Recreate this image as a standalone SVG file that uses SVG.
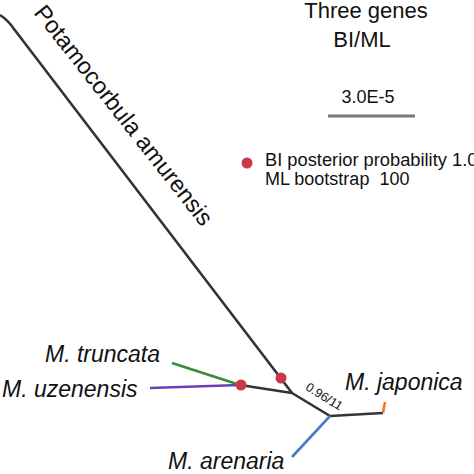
<svg xmlns="http://www.w3.org/2000/svg" width="474" height="474" viewBox="0 0 474 474">
<style>
text{font-family:"Liberation Sans",Arial,sans-serif;fill:#111}
.sp{font-style:italic;font-size:23px}
.br{fill:none;stroke-width:2.6;stroke-linecap:butt;stroke-linejoin:round}
.dot{fill:#c8384a}
</style>
<rect width="474" height="474" fill="#fff"/>
<g id="connectors">
<path class="br" stroke="#333" d="M0,15 Q8,20 14,29 L292,393"/>
<path class="br" stroke="#333" d="M240,385 L292,393 L330,416 L383,413"/>
<path class="br" stroke="#6a3fb5" d="M150,388 L240,385"/>
<path class="br" stroke="#3a8a3a" d="M172,363 L240,385"/>
<path class="br" stroke="#4a7cc4" d="M330,416 L292,457"/>
<path class="br" stroke="#f07a20" d="M383,413 L385,402"/>
</g>
<g id="node-potamocorbula"><text font-size="23.5" transform="translate(33,13) rotate(51.8)">Potamocorbula amurensis</text></g>
<g id="node-truncata"><text class="sp" x="45" y="362">M. truncata</text></g>
<g id="node-uzenensis"><text class="sp" x="2" y="397">M. uzenensis</text></g>
<g id="node-japonica"><text class="sp" x="345" y="390">M. japonica</text></g>
<g id="node-arenaria"><text class="sp" x="168" y="469">M. arenaria</text></g>
<g id="support-dots">
<circle class="dot" cx="281" cy="378" r="5.5"/>
<circle class="dot" cx="241" cy="385" r="5.5"/>
</g>
<g id="node-label"><text font-size="12.5" text-anchor="middle" transform="translate(322,400) rotate(32)">0.96/11</text></g>
<g id="title">
<text font-size="22" text-anchor="middle" x="366" y="18">Three genes</text>
<text font-size="22" text-anchor="middle" x="362" y="47">BI/ML</text>
</g>
<g id="scale">
<text font-size="18" text-anchor="middle" x="368" y="103">3.0E-5</text>
<line x1="328" y1="116" x2="415" y2="116" stroke="#777" stroke-width="3"/>
</g>
<g id="legend">
<circle class="dot" cx="247" cy="163" r="5.5"/>
<text font-size="18.3" x="265" y="166">BI posterior probability 1.00</text>
<text font-size="18" x="265" y="185" xml:space="preserve">ML bootstrap  100</text>
</g>
</svg>
